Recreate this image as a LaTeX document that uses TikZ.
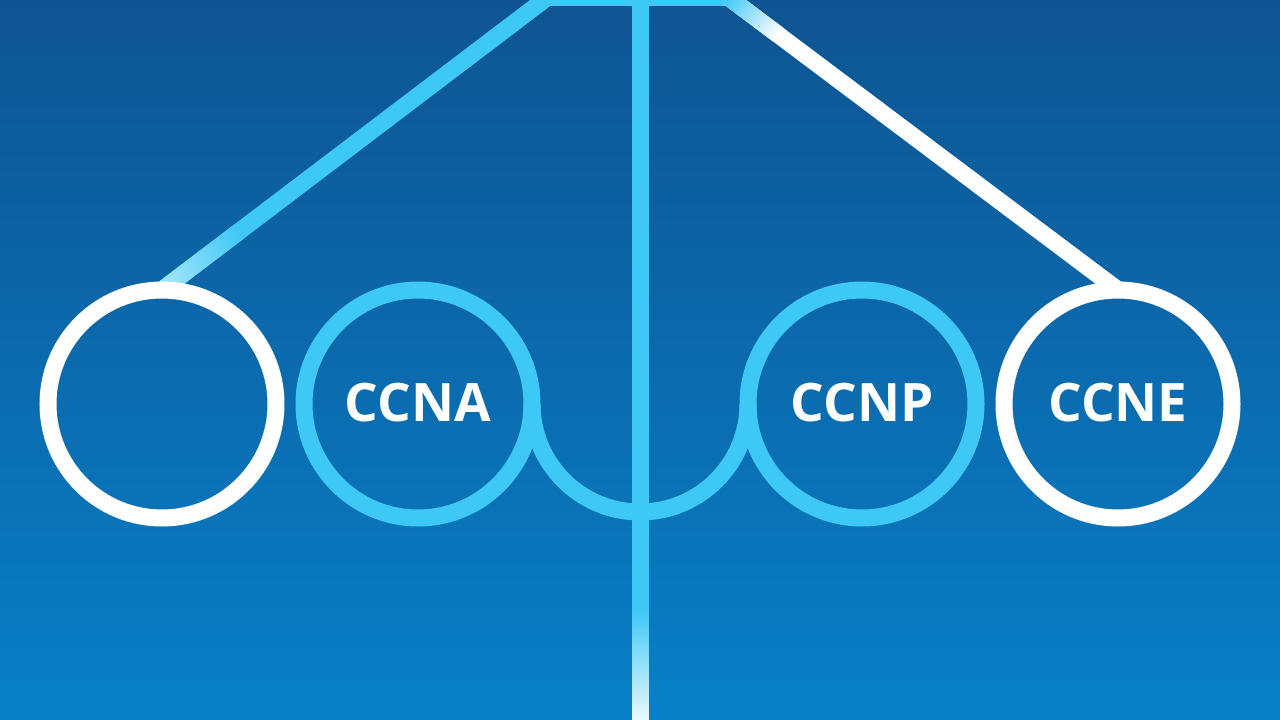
\documentclass[tikz,border=0pt]{standalone}
\usepackage{fontspec}
\setmainfont{Open Sans}
\usetikzlibrary{calc}
\definecolor{bgtop}{RGB}{14,84,146}
\definecolor{bgbot}{RGB}{8,128,200}
\definecolor{cyanline}{RGB}{62,200,245}
\pgfdeclarelayer{bg}
\pgfsetlayers{bg,main}
% gradient overlay along a straight connector: #1 from, #2 to, #3 start colour, #4 end colour
\newcommand{\gradline}[4]{%
  \foreach \k [evaluate=\k as \pc using \k*2.5,
               evaluate=\k as \s using (\k-1)/40,
               evaluate=\k as \e using (\k+0.3)/40] in {1,...,40}{%
    \draw[wire, draw={#4!\pc!#3}] ($(#1)!\s!(#2)$) -- ($(#1)!{min(\e,1)}!(#2)$);
  }}
\begin{document}
\begin{tikzpicture}[x=1pt,y=-1pt,
  ring/.style={circle, draw, line width=17pt, minimum size=228pt, inner sep=0pt,
    outer sep=0pt, text=white, font=\bfseries\fontsize{53}{53}\selectfont},
  ringw/.style={ring, draw=white},
  ringc/.style={ring, draw=cyanline},
  wire/.style={line width=17pt, draw=cyanline},
  whitewire/.style={line width=17pt, draw=white}]
\useasboundingbox (0,0) rectangle (1280,720);
% circles
\node[ringw] (c1) at (162,404) {};
\node[ringc] (c2) at (418,404) {\raisebox{3pt}{CCNA}};
\node[ringc] (c3) at (862,404) {\raisebox{3pt}{CCNP}};
\node[ringw] (c4) at (1118,404) {\raisebox{3pt}{CCNE}};
% top / bottom points
\coordinate (tl) at (548,-3);
\coordinate (tr) at (728,-3);
\coordinate (tm) at (640,-3);
\coordinate (bm) at (640,720);
\coordinate (vfade) at (640,612);
\begin{pgfonlayer}{bg}
\shade[top color=bgtop, bottom color=bgbot] (0,0) rectangle (1280,720);
% top bar and vertical line
\draw[wire] (tl) -- (tr);
\draw[wire] (tm) -- (bm);
\gradline{vfade}{bm}{cyanline}{cyanline!12!white}
% left diagonal
\draw[wire] (tl) -- (c1.north);
\coordinate (lfade) at ($(tl)!0.8!(c1.north)$);
\gradline{lfade}{c1.north}{cyanline}{cyanline!45!white}
% right diagonal
\draw[whitewire] (tr) -- (c4.north);
\coordinate (rfade) at ($(tr)!0.13!(c4.north)$);
\gradline{tr}{rfade}{cyanline}{white}
% U connector
\draw[wire] (c2.east) arc[start angle=180, end angle=0, radius=108];
\end{pgfonlayer}
\end{tikzpicture}
\end{document}
